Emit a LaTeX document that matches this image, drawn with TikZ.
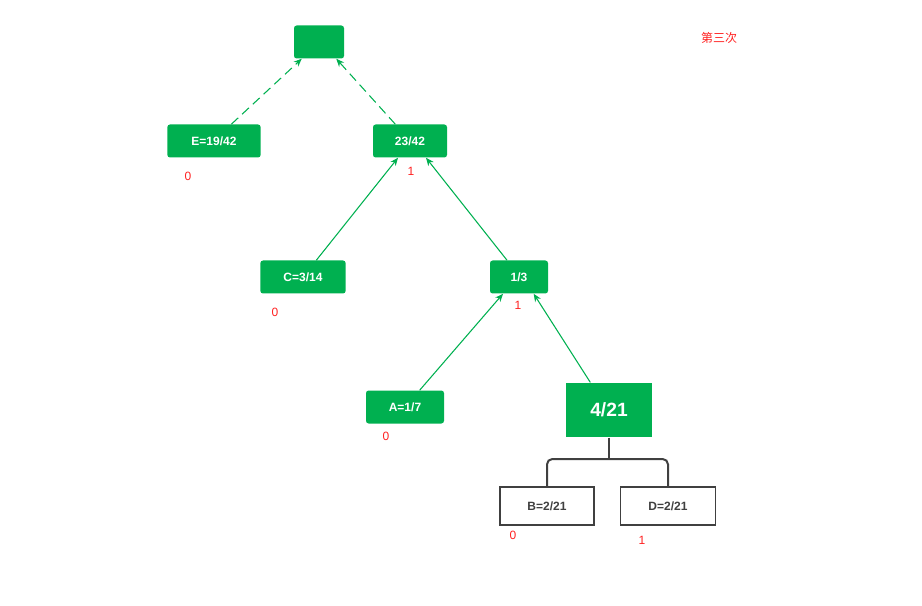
\documentclass[tikz,border=0pt]{standalone}
\usepackage{fontspec}
\setmainfont{Liberation Sans}
\newfontfamily\cjk{Noto Sans CJK SC}
\usetikzlibrary{arrows.meta,positioning}
\definecolor{hgreen}{HTML}{00B050}
\definecolor{hred}{HTML}{FF2020}
\definecolor{hgray}{HTML}{404040}

\begin{document}
\begin{tikzpicture}[
  x=0.75pt, y=-0.75pt,
  every node/.style={font=\small\bfseries},
  gbox/.style={fill=hgreen, text=white, rounded corners=2pt, minimum height=24.75pt, inner sep=0pt},
  wbox/.style={draw=hgray, thick, fill=white, text=hgray, minimum height=28.5pt, inner sep=0pt},
  bit/.style={text=hred, font=\small},
  link/.style={draw=hgreen, thick, -{Stealth[length=6pt,width=5pt]}},
  hook/.style={draw=hgray, line width=1.5pt, rounded corners=4pt}
]
\useasboundingbox (0,0) rectangle (922,606);

% nodes
\node[gbox, minimum width=37.5pt] (root) at (319,42) {};
\node[gbox, minimum width=70pt] (e) at (214,141) {E=19/42};
\node[gbox, minimum width=55.5pt] (s2342) at (410,141) {23/42};
\node[gbox, minimum width=64pt] (c) at (303,277) {C=3/14};
\node[gbox, minimum width=43.5pt] (s13) at (519,277) {1/3};
\node[gbox, minimum width=58.5pt] (a) at (405,407) {A=1/7};
\node[gbox, rounded corners=0pt, minimum width=64.5pt, minimum height=41pt, font=\Large\bfseries] (s421) at (609,410) {4/21};
\node[wbox, minimum width=70.5pt] (b) at (547,506) {B=2/21};
\node[wbox, minimum width=71pt] (d) at (668,506) {D=2/21};

% connectors
\draw[link, dash pattern=on 7pt off 4pt] ([xshift=13pt]e.north) -- ([xshift=6pt]root.south west);
\draw[link, dash pattern=on 7pt off 4pt] ([xshift=-11pt]s2342.north) -- ([xshift=-6pt]root.south east);
\draw[link] ([xshift=10pt]c.north) -- ([xshift=-9pt]s2342.south);
\draw[link] ([xshift=-9pt]s13.north) -- ([xshift=12pt]s2342.south);
\draw[link] ([xshift=11pt]a.north) -- ([xshift=-12pt]s13.south);
\draw[link] ([xshift=-14pt]s421.north) -- ([xshift=11pt]s13.south);
\draw[hook] (s421.south) -- (609,459) coordinate (mid);
\draw[hook] (b.north) |- (mid) -| (d.north);

% bit labels
\node[bit] (l0e) at (188,176) {0};
\node[bit] (l1s) at (411,171) {1};
\node[bit] (l0c) at (275,312) {0};
\node[bit] (l1t) at (518,305) {1};
\node[bit] (l0a) at (386,436) {0};
\node[bit] (l0b) at (513,535) {0};
\node[bit] (l1d) at (642,540) {1};
\node[bit, font=\cjk\small] (title) at (719,38) {第三次};
\end{tikzpicture}
\end{document}
